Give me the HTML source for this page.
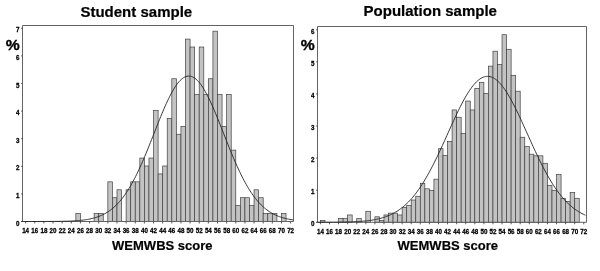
<!DOCTYPE html>
<html><head><meta charset="utf-8"><title>WEMWBS score distributions</title>
<style>
html,body{margin:0;padding:0;background:#fff;}
body{width:600px;height:271px;overflow:hidden;}
svg{display:block;font-family:"Liberation Sans",sans-serif;font-weight:bold;fill:#000;}
.tk{font-size:7.8px;stroke:#000;stroke-width:0.3px;}
.ti{font-size:15px;stroke:#000;stroke-width:0.2px;}
.xl{font-size:13px;stroke:#000;stroke-width:0.2px;}
.pc{font-size:15.4px;stroke:#000;stroke-width:0.35px;}
</style></head><body>
<svg width="600" height="271" viewBox="0 0 600 271">
<rect width="600" height="271" fill="#fff"/>
<rect x="75.86" y="213.57" width="4.57" height="7.93" fill="#c3c3c3" stroke="#404040" stroke-width="0.7"/>
<rect x="94.13" y="213.57" width="4.57" height="7.93" fill="#c3c3c3" stroke="#404040" stroke-width="0.7"/>
<rect x="98.70" y="213.57" width="4.57" height="7.93" fill="#c3c3c3" stroke="#404040" stroke-width="0.7"/>
<rect x="107.84" y="181.84" width="4.57" height="39.66" fill="#c3c3c3" stroke="#404040" stroke-width="0.7"/>
<rect x="112.41" y="197.71" width="4.57" height="23.79" fill="#c3c3c3" stroke="#404040" stroke-width="0.7"/>
<rect x="116.98" y="189.78" width="4.57" height="31.72" fill="#c3c3c3" stroke="#404040" stroke-width="0.7"/>
<rect x="126.12" y="189.78" width="4.57" height="31.72" fill="#c3c3c3" stroke="#404040" stroke-width="0.7"/>
<rect x="130.69" y="181.84" width="4.57" height="39.66" fill="#c3c3c3" stroke="#404040" stroke-width="0.7"/>
<rect x="135.26" y="181.84" width="4.57" height="39.66" fill="#c3c3c3" stroke="#404040" stroke-width="0.7"/>
<rect x="139.82" y="158.05" width="4.57" height="63.45" fill="#c3c3c3" stroke="#404040" stroke-width="0.7"/>
<rect x="144.39" y="165.98" width="4.57" height="55.52" fill="#c3c3c3" stroke="#404040" stroke-width="0.7"/>
<rect x="148.96" y="158.05" width="4.57" height="63.45" fill="#c3c3c3" stroke="#404040" stroke-width="0.7"/>
<rect x="153.53" y="110.47" width="4.57" height="111.03" fill="#c3c3c3" stroke="#404040" stroke-width="0.7"/>
<rect x="158.10" y="173.91" width="4.57" height="47.59" fill="#c3c3c3" stroke="#404040" stroke-width="0.7"/>
<rect x="162.67" y="165.98" width="4.57" height="55.52" fill="#c3c3c3" stroke="#404040" stroke-width="0.7"/>
<rect x="167.24" y="118.40" width="4.57" height="103.10" fill="#c3c3c3" stroke="#404040" stroke-width="0.7"/>
<rect x="171.81" y="78.74" width="4.57" height="142.76" fill="#c3c3c3" stroke="#404040" stroke-width="0.7"/>
<rect x="176.38" y="134.26" width="4.57" height="87.24" fill="#c3c3c3" stroke="#404040" stroke-width="0.7"/>
<rect x="180.95" y="126.33" width="4.57" height="95.17" fill="#c3c3c3" stroke="#404040" stroke-width="0.7"/>
<rect x="185.51" y="39.09" width="4.57" height="182.41" fill="#c3c3c3" stroke="#404040" stroke-width="0.7"/>
<rect x="190.08" y="47.02" width="4.57" height="174.48" fill="#c3c3c3" stroke="#404040" stroke-width="0.7"/>
<rect x="194.65" y="94.60" width="4.57" height="126.90" fill="#c3c3c3" stroke="#404040" stroke-width="0.7"/>
<rect x="199.22" y="47.02" width="4.57" height="174.48" fill="#c3c3c3" stroke="#404040" stroke-width="0.7"/>
<rect x="203.79" y="94.60" width="4.57" height="126.90" fill="#c3c3c3" stroke="#404040" stroke-width="0.7"/>
<rect x="208.36" y="78.74" width="4.57" height="142.76" fill="#c3c3c3" stroke="#404040" stroke-width="0.7"/>
<rect x="212.93" y="31.16" width="4.57" height="190.34" fill="#c3c3c3" stroke="#404040" stroke-width="0.7"/>
<rect x="217.50" y="94.60" width="4.57" height="126.90" fill="#c3c3c3" stroke="#404040" stroke-width="0.7"/>
<rect x="222.07" y="126.33" width="4.57" height="95.17" fill="#c3c3c3" stroke="#404040" stroke-width="0.7"/>
<rect x="226.64" y="94.60" width="4.57" height="126.90" fill="#c3c3c3" stroke="#404040" stroke-width="0.7"/>
<rect x="231.20" y="150.12" width="4.57" height="71.38" fill="#c3c3c3" stroke="#404040" stroke-width="0.7"/>
<rect x="235.77" y="205.64" width="4.57" height="15.86" fill="#c3c3c3" stroke="#404040" stroke-width="0.7"/>
<rect x="240.34" y="197.71" width="4.57" height="23.79" fill="#c3c3c3" stroke="#404040" stroke-width="0.7"/>
<rect x="244.91" y="197.71" width="4.57" height="23.79" fill="#c3c3c3" stroke="#404040" stroke-width="0.7"/>
<rect x="249.48" y="205.64" width="4.57" height="15.86" fill="#c3c3c3" stroke="#404040" stroke-width="0.7"/>
<rect x="254.05" y="189.78" width="4.57" height="31.72" fill="#c3c3c3" stroke="#404040" stroke-width="0.7"/>
<rect x="258.62" y="197.71" width="4.57" height="23.79" fill="#c3c3c3" stroke="#404040" stroke-width="0.7"/>
<rect x="263.19" y="213.57" width="4.57" height="7.93" fill="#c3c3c3" stroke="#404040" stroke-width="0.7"/>
<rect x="267.76" y="213.57" width="4.57" height="7.93" fill="#c3c3c3" stroke="#404040" stroke-width="0.7"/>
<rect x="272.33" y="213.57" width="4.57" height="7.93" fill="#c3c3c3" stroke="#404040" stroke-width="0.7"/>
<rect x="281.46" y="213.57" width="4.57" height="7.93" fill="#c3c3c3" stroke="#404040" stroke-width="0.7"/>
<path d="M22.5 221.5 V25.5 H293.5 V221.5" fill="none" stroke="#646464" stroke-width="1"/>
<path d="M21.3 221.5 H293.5" fill="none" stroke="#646464" stroke-width="1"/>
<path d="M25.60 221.5 v2" stroke="#333" stroke-width="0.8"/>
<text transform="translate(25.60 232.75) scale(0.8 1)" class="tk" text-anchor="middle">14</text>
<path d="M34.74 221.5 v2" stroke="#333" stroke-width="0.8"/>
<text transform="translate(34.74 232.75) scale(0.8 1)" class="tk" text-anchor="middle">16</text>
<path d="M43.88 221.5 v2" stroke="#333" stroke-width="0.8"/>
<text transform="translate(43.88 232.75) scale(0.8 1)" class="tk" text-anchor="middle">18</text>
<path d="M53.01 221.5 v2" stroke="#333" stroke-width="0.8"/>
<text transform="translate(53.01 232.75) scale(0.8 1)" class="tk" text-anchor="middle">20</text>
<path d="M62.15 221.5 v2" stroke="#333" stroke-width="0.8"/>
<text transform="translate(62.15 232.75) scale(0.8 1)" class="tk" text-anchor="middle">22</text>
<path d="M71.29 221.5 v2" stroke="#333" stroke-width="0.8"/>
<text transform="translate(71.29 232.75) scale(0.8 1)" class="tk" text-anchor="middle">24</text>
<path d="M80.43 221.5 v2" stroke="#333" stroke-width="0.8"/>
<text transform="translate(80.43 232.75) scale(0.8 1)" class="tk" text-anchor="middle">26</text>
<path d="M89.57 221.5 v2" stroke="#333" stroke-width="0.8"/>
<text transform="translate(89.57 232.75) scale(0.8 1)" class="tk" text-anchor="middle">28</text>
<path d="M98.70 221.5 v2" stroke="#333" stroke-width="0.8"/>
<text transform="translate(98.70 232.75) scale(0.8 1)" class="tk" text-anchor="middle">30</text>
<path d="M107.84 221.5 v2" stroke="#333" stroke-width="0.8"/>
<text transform="translate(107.84 232.75) scale(0.8 1)" class="tk" text-anchor="middle">32</text>
<path d="M116.98 221.5 v2" stroke="#333" stroke-width="0.8"/>
<text transform="translate(116.98 232.75) scale(0.8 1)" class="tk" text-anchor="middle">34</text>
<path d="M126.12 221.5 v2" stroke="#333" stroke-width="0.8"/>
<text transform="translate(126.12 232.75) scale(0.8 1)" class="tk" text-anchor="middle">36</text>
<path d="M135.26 221.5 v2" stroke="#333" stroke-width="0.8"/>
<text transform="translate(135.26 232.75) scale(0.8 1)" class="tk" text-anchor="middle">38</text>
<path d="M144.39 221.5 v2" stroke="#333" stroke-width="0.8"/>
<text transform="translate(144.39 232.75) scale(0.8 1)" class="tk" text-anchor="middle">40</text>
<path d="M153.53 221.5 v2" stroke="#333" stroke-width="0.8"/>
<text transform="translate(153.53 232.75) scale(0.8 1)" class="tk" text-anchor="middle">42</text>
<path d="M162.67 221.5 v2" stroke="#333" stroke-width="0.8"/>
<text transform="translate(162.67 232.75) scale(0.8 1)" class="tk" text-anchor="middle">44</text>
<path d="M171.81 221.5 v2" stroke="#333" stroke-width="0.8"/>
<text transform="translate(171.81 232.75) scale(0.8 1)" class="tk" text-anchor="middle">46</text>
<path d="M180.95 221.5 v2" stroke="#333" stroke-width="0.8"/>
<text transform="translate(180.95 232.75) scale(0.8 1)" class="tk" text-anchor="middle">48</text>
<path d="M190.08 221.5 v2" stroke="#333" stroke-width="0.8"/>
<text transform="translate(190.08 232.75) scale(0.8 1)" class="tk" text-anchor="middle">50</text>
<path d="M199.22 221.5 v2" stroke="#333" stroke-width="0.8"/>
<text transform="translate(199.22 232.75) scale(0.8 1)" class="tk" text-anchor="middle">52</text>
<path d="M208.36 221.5 v2" stroke="#333" stroke-width="0.8"/>
<text transform="translate(208.36 232.75) scale(0.8 1)" class="tk" text-anchor="middle">54</text>
<path d="M217.50 221.5 v2" stroke="#333" stroke-width="0.8"/>
<text transform="translate(217.50 232.75) scale(0.8 1)" class="tk" text-anchor="middle">56</text>
<path d="M226.64 221.5 v2" stroke="#333" stroke-width="0.8"/>
<text transform="translate(226.64 232.75) scale(0.8 1)" class="tk" text-anchor="middle">58</text>
<path d="M235.77 221.5 v2" stroke="#333" stroke-width="0.8"/>
<text transform="translate(235.77 232.75) scale(0.8 1)" class="tk" text-anchor="middle">60</text>
<path d="M244.91 221.5 v2" stroke="#333" stroke-width="0.8"/>
<text transform="translate(244.91 232.75) scale(0.8 1)" class="tk" text-anchor="middle">62</text>
<path d="M254.05 221.5 v2" stroke="#333" stroke-width="0.8"/>
<text transform="translate(254.05 232.75) scale(0.8 1)" class="tk" text-anchor="middle">64</text>
<path d="M263.19 221.5 v2" stroke="#333" stroke-width="0.8"/>
<text transform="translate(263.19 232.75) scale(0.8 1)" class="tk" text-anchor="middle">66</text>
<path d="M272.33 221.5 v2" stroke="#333" stroke-width="0.8"/>
<text transform="translate(272.33 232.75) scale(0.8 1)" class="tk" text-anchor="middle">68</text>
<path d="M281.46 221.5 v2" stroke="#333" stroke-width="0.8"/>
<text transform="translate(281.46 232.75) scale(0.8 1)" class="tk" text-anchor="middle">70</text>
<path d="M290.60 221.5 v2" stroke="#333" stroke-width="0.8"/>
<text transform="translate(290.60 232.75) scale(0.8 1)" class="tk" text-anchor="middle">72</text>
<path d="M22.5 221.50 h-1.4" stroke="#333" stroke-width="0.8"/>
<text transform="translate(19.50 225.65) scale(0.8 1)" class="tk" text-anchor="end">0</text>
<path d="M22.5 193.90 h-1.4" stroke="#333" stroke-width="0.8"/>
<text transform="translate(19.50 198.05) scale(0.8 1)" class="tk" text-anchor="end">1</text>
<path d="M22.5 166.30 h-1.4" stroke="#333" stroke-width="0.8"/>
<text transform="translate(19.50 170.45) scale(0.8 1)" class="tk" text-anchor="end">2</text>
<path d="M22.5 138.70 h-1.4" stroke="#333" stroke-width="0.8"/>
<text transform="translate(19.50 142.85) scale(0.8 1)" class="tk" text-anchor="end">3</text>
<path d="M22.5 111.10 h-1.4" stroke="#333" stroke-width="0.8"/>
<text transform="translate(19.50 115.25) scale(0.8 1)" class="tk" text-anchor="end">4</text>
<path d="M22.5 83.50 h-1.4" stroke="#333" stroke-width="0.8"/>
<text transform="translate(19.50 87.65) scale(0.8 1)" class="tk" text-anchor="end">5</text>
<path d="M22.5 55.90 h-1.4" stroke="#333" stroke-width="0.8"/>
<text transform="translate(19.50 60.05) scale(0.8 1)" class="tk" text-anchor="end">6</text>
<path d="M22.5 28.30 h-1.4" stroke="#333" stroke-width="0.8"/>
<text transform="translate(19.50 32.45) scale(0.8 1)" class="tk" text-anchor="end">7</text>
<polyline points="22.50,221.50 23.64,221.50 24.78,221.50 25.93,221.50 27.07,221.50 28.21,221.50 29.35,221.50 30.50,221.50 31.64,221.49 32.78,221.49 33.92,221.49 35.06,221.49 36.21,221.49 37.35,221.49 38.49,221.49 39.63,221.49 40.78,221.48 41.92,221.48 43.06,221.48 44.20,221.48 45.34,221.47 46.49,221.47 47.63,221.46 48.77,221.46 49.91,221.45 51.06,221.44 52.20,221.44 53.34,221.43 54.48,221.42 55.63,221.41 56.77,221.39 57.91,221.38 59.05,221.36 60.19,221.35 61.34,221.33 62.48,221.31 63.62,221.28 64.76,221.25 65.91,221.22 67.05,221.19 68.19,221.15 69.33,221.11 70.47,221.06 71.62,221.01 72.76,220.95 73.90,220.89 75.04,220.82 76.19,220.74 77.33,220.66 78.47,220.57 79.61,220.46 80.75,220.35 81.90,220.23 83.04,220.09 84.18,219.95 85.32,219.78 86.47,219.61 87.61,219.42 88.75,219.21 89.89,218.98 91.03,218.74 92.18,218.47 93.32,218.18 94.46,217.87 95.60,217.53 96.75,217.17 97.89,216.78 99.03,216.36 100.17,215.90 101.32,215.42 102.46,214.89 103.60,214.33 104.74,213.74 105.88,213.10 107.03,212.41 108.17,211.69 109.31,210.91 110.45,210.09 111.60,209.22 112.74,208.30 113.88,207.32 115.02,206.28 116.16,205.19 117.31,204.04 118.45,202.82 119.59,201.55 120.73,200.21 121.88,198.80 123.02,197.33 124.16,195.79 125.30,194.18 126.44,192.50 127.59,190.75 128.73,188.93 129.87,187.04 131.01,185.09 132.16,183.06 133.30,180.96 134.44,178.80 135.58,176.56 136.72,174.26 137.87,171.90 139.01,169.48 140.15,167.00 141.29,164.46 142.44,161.86 143.58,159.22 144.72,156.53 145.86,153.79 147.01,151.02 148.15,148.21 149.29,145.38 150.43,142.51 151.57,139.63 152.72,136.74 153.86,133.84 155.00,130.94 156.14,128.04 157.29,125.16 158.43,122.29 159.57,119.45 160.71,116.64 161.85,113.87 163.00,111.15 164.14,108.48 165.28,105.87 166.42,103.33 167.57,100.86 168.71,98.48 169.85,96.18 170.99,93.98 172.13,91.88 173.28,89.89 174.42,88.01 175.56,86.25 176.70,84.62 177.85,83.11 178.99,81.75 180.13,80.52 181.27,79.43 182.41,78.49 183.56,77.70 184.70,77.06 185.84,76.58 186.98,76.25 188.13,76.08 189.27,76.06 190.41,76.20 191.55,76.50 192.70,76.96 193.84,77.57 194.98,78.33 196.12,79.24 197.26,80.30 198.41,81.50 199.55,82.85 200.69,84.32 201.83,85.93 202.98,87.67 204.12,89.53 205.26,91.50 206.40,93.58 207.54,95.76 208.69,98.04 209.83,100.41 210.97,102.86 212.11,105.39 213.26,107.99 214.40,110.64 215.54,113.36 216.68,116.12 217.82,118.92 218.97,121.76 220.11,124.62 221.25,127.50 222.39,130.40 223.54,133.30 224.68,136.20 225.82,139.09 226.96,141.97 228.10,144.84 229.25,147.68 230.39,150.49 231.53,153.27 232.67,156.02 233.82,158.72 234.96,161.37 236.10,163.97 237.24,166.52 238.39,169.02 239.53,171.45 240.67,173.83 241.81,176.14 242.95,178.38 244.10,180.56 245.24,182.67 246.38,184.71 247.52,186.68 248.67,188.58 249.81,190.42 250.95,192.18 252.09,193.87 253.23,195.49 254.38,197.04 255.52,198.53 256.66,199.95 257.80,201.30 258.95,202.59 260.09,203.81 261.23,204.98 262.37,206.08 263.51,207.13 264.66,208.12 265.80,209.05 266.94,209.93 268.08,210.76 269.23,211.55 270.37,212.28 271.51,212.97 272.65,213.62 273.80,214.22 274.94,214.79 276.08,215.32 277.22,215.81 278.36,216.27 279.51,216.70 280.65,217.10 281.79,217.47 282.93,217.81 284.08,218.13 285.22,218.42 286.36,218.69 287.50,218.94 288.64,219.17 289.79,219.38 290.93,219.57 292.07,219.75 293.21,219.92" fill="none" stroke="#222" stroke-width="0.9"/>
<rect x="320.40" y="220.47" width="4.54" height="1.83" fill="#c3c3c3" stroke="#404040" stroke-width="0.7"/>
<rect x="338.56" y="218.63" width="4.54" height="3.67" fill="#c3c3c3" stroke="#404040" stroke-width="0.7"/>
<rect x="343.10" y="218.63" width="4.54" height="3.67" fill="#c3c3c3" stroke="#404040" stroke-width="0.7"/>
<rect x="347.65" y="214.96" width="4.54" height="7.34" fill="#c3c3c3" stroke="#404040" stroke-width="0.7"/>
<rect x="356.73" y="218.63" width="4.54" height="3.67" fill="#c3c3c3" stroke="#404040" stroke-width="0.7"/>
<rect x="365.81" y="211.29" width="4.54" height="11.01" fill="#c3c3c3" stroke="#404040" stroke-width="0.7"/>
<rect x="374.89" y="216.80" width="4.54" height="5.50" fill="#c3c3c3" stroke="#404040" stroke-width="0.7"/>
<rect x="379.43" y="220.47" width="4.54" height="1.83" fill="#c3c3c3" stroke="#404040" stroke-width="0.7"/>
<rect x="383.97" y="214.96" width="4.54" height="7.34" fill="#c3c3c3" stroke="#404040" stroke-width="0.7"/>
<rect x="388.51" y="213.13" width="4.54" height="9.17" fill="#c3c3c3" stroke="#404040" stroke-width="0.7"/>
<rect x="393.06" y="213.13" width="4.54" height="9.17" fill="#c3c3c3" stroke="#404040" stroke-width="0.7"/>
<rect x="397.60" y="214.96" width="4.54" height="7.34" fill="#c3c3c3" stroke="#404040" stroke-width="0.7"/>
<rect x="402.14" y="207.51" width="4.54" height="14.79" fill="#c3c3c3" stroke="#404040" stroke-width="0.7"/>
<rect x="406.68" y="205.32" width="4.54" height="16.98" fill="#c3c3c3" stroke="#404040" stroke-width="0.7"/>
<rect x="411.22" y="200.01" width="4.54" height="22.29" fill="#c3c3c3" stroke="#404040" stroke-width="0.7"/>
<rect x="415.76" y="196.30" width="4.54" height="26.00" fill="#c3c3c3" stroke="#404040" stroke-width="0.7"/>
<rect x="420.30" y="183.28" width="4.54" height="39.02" fill="#c3c3c3" stroke="#404040" stroke-width="0.7"/>
<rect x="424.84" y="188.81" width="4.54" height="33.49" fill="#c3c3c3" stroke="#404040" stroke-width="0.7"/>
<rect x="429.38" y="190.30" width="4.54" height="32.00" fill="#c3c3c3" stroke="#404040" stroke-width="0.7"/>
<rect x="433.92" y="179.19" width="4.54" height="43.11" fill="#c3c3c3" stroke="#404040" stroke-width="0.7"/>
<rect x="438.47" y="148.68" width="4.54" height="73.62" fill="#c3c3c3" stroke="#404040" stroke-width="0.7"/>
<rect x="443.01" y="155.50" width="4.54" height="66.80" fill="#c3c3c3" stroke="#404040" stroke-width="0.7"/>
<rect x="447.55" y="141.50" width="4.54" height="80.80" fill="#c3c3c3" stroke="#404040" stroke-width="0.7"/>
<rect x="452.09" y="109.94" width="4.54" height="112.36" fill="#c3c3c3" stroke="#404040" stroke-width="0.7"/>
<rect x="456.63" y="117.24" width="4.54" height="105.06" fill="#c3c3c3" stroke="#404040" stroke-width="0.7"/>
<rect x="461.17" y="133.31" width="4.54" height="88.99" fill="#c3c3c3" stroke="#404040" stroke-width="0.7"/>
<rect x="465.71" y="101.05" width="4.54" height="121.25" fill="#c3c3c3" stroke="#404040" stroke-width="0.7"/>
<rect x="470.25" y="109.94" width="4.54" height="112.36" fill="#c3c3c3" stroke="#404040" stroke-width="0.7"/>
<rect x="474.79" y="88.35" width="4.54" height="133.95" fill="#c3c3c3" stroke="#404040" stroke-width="0.7"/>
<rect x="479.33" y="82.32" width="4.54" height="139.98" fill="#c3c3c3" stroke="#404040" stroke-width="0.7"/>
<rect x="483.88" y="93.43" width="4.54" height="128.87" fill="#c3c3c3" stroke="#404040" stroke-width="0.7"/>
<rect x="488.42" y="66.12" width="4.54" height="156.18" fill="#c3c3c3" stroke="#404040" stroke-width="0.7"/>
<rect x="492.96" y="51.20" width="4.54" height="171.10" fill="#c3c3c3" stroke="#404040" stroke-width="0.7"/>
<rect x="497.50" y="64.54" width="4.54" height="157.76" fill="#c3c3c3" stroke="#404040" stroke-width="0.7"/>
<rect x="502.04" y="34.69" width="4.54" height="187.61" fill="#c3c3c3" stroke="#404040" stroke-width="0.7"/>
<rect x="506.58" y="49.30" width="4.54" height="173.00" fill="#c3c3c3" stroke="#404040" stroke-width="0.7"/>
<rect x="511.12" y="75.33" width="4.54" height="146.97" fill="#c3c3c3" stroke="#404040" stroke-width="0.7"/>
<rect x="515.66" y="91.21" width="4.54" height="131.09" fill="#c3c3c3" stroke="#404040" stroke-width="0.7"/>
<rect x="520.20" y="137.25" width="4.54" height="85.06" fill="#c3c3c3" stroke="#404040" stroke-width="0.7"/>
<rect x="524.75" y="146.45" width="4.54" height="75.85" fill="#c3c3c3" stroke="#404040" stroke-width="0.7"/>
<rect x="529.29" y="154.20" width="4.54" height="68.10" fill="#c3c3c3" stroke="#404040" stroke-width="0.7"/>
<rect x="533.83" y="155.82" width="4.54" height="66.48" fill="#c3c3c3" stroke="#404040" stroke-width="0.7"/>
<rect x="538.37" y="155.82" width="4.54" height="66.48" fill="#c3c3c3" stroke="#404040" stroke-width="0.7"/>
<rect x="542.91" y="163.28" width="4.54" height="59.02" fill="#c3c3c3" stroke="#404040" stroke-width="0.7"/>
<rect x="547.45" y="185.31" width="4.54" height="36.99" fill="#c3c3c3" stroke="#404040" stroke-width="0.7"/>
<rect x="551.99" y="190.30" width="4.54" height="32.00" fill="#c3c3c3" stroke="#404040" stroke-width="0.7"/>
<rect x="556.53" y="174.49" width="4.54" height="47.81" fill="#c3c3c3" stroke="#404040" stroke-width="0.7"/>
<rect x="561.07" y="198.30" width="4.54" height="24.00" fill="#c3c3c3" stroke="#404040" stroke-width="0.7"/>
<rect x="565.61" y="201.38" width="4.54" height="20.92" fill="#c3c3c3" stroke="#404040" stroke-width="0.7"/>
<rect x="570.15" y="192.49" width="4.54" height="29.81" fill="#c3c3c3" stroke="#404040" stroke-width="0.7"/>
<rect x="574.70" y="198.30" width="4.54" height="24.00" fill="#c3c3c3" stroke="#404040" stroke-width="0.7"/>
<path d="M317.5 222.3 V26.5 H586.5 V222.3" fill="none" stroke="#646464" stroke-width="1"/>
<path d="M316.3 222.3 H586.5" fill="none" stroke="#646464" stroke-width="1"/>
<path d="M320.40 222.3 v2" stroke="#333" stroke-width="0.8"/>
<text transform="translate(320.40 233.55) scale(0.8 1)" class="tk" text-anchor="middle">14</text>
<path d="M329.48 222.3 v2" stroke="#333" stroke-width="0.8"/>
<text transform="translate(329.48 233.55) scale(0.8 1)" class="tk" text-anchor="middle">16</text>
<path d="M338.56 222.3 v2" stroke="#333" stroke-width="0.8"/>
<text transform="translate(338.56 233.55) scale(0.8 1)" class="tk" text-anchor="middle">18</text>
<path d="M347.65 222.3 v2" stroke="#333" stroke-width="0.8"/>
<text transform="translate(347.65 233.55) scale(0.8 1)" class="tk" text-anchor="middle">20</text>
<path d="M356.73 222.3 v2" stroke="#333" stroke-width="0.8"/>
<text transform="translate(356.73 233.55) scale(0.8 1)" class="tk" text-anchor="middle">22</text>
<path d="M365.81 222.3 v2" stroke="#333" stroke-width="0.8"/>
<text transform="translate(365.81 233.55) scale(0.8 1)" class="tk" text-anchor="middle">24</text>
<path d="M374.89 222.3 v2" stroke="#333" stroke-width="0.8"/>
<text transform="translate(374.89 233.55) scale(0.8 1)" class="tk" text-anchor="middle">26</text>
<path d="M383.97 222.3 v2" stroke="#333" stroke-width="0.8"/>
<text transform="translate(383.97 233.55) scale(0.8 1)" class="tk" text-anchor="middle">28</text>
<path d="M393.06 222.3 v2" stroke="#333" stroke-width="0.8"/>
<text transform="translate(393.06 233.55) scale(0.8 1)" class="tk" text-anchor="middle">30</text>
<path d="M402.14 222.3 v2" stroke="#333" stroke-width="0.8"/>
<text transform="translate(402.14 233.55) scale(0.8 1)" class="tk" text-anchor="middle">32</text>
<path d="M411.22 222.3 v2" stroke="#333" stroke-width="0.8"/>
<text transform="translate(411.22 233.55) scale(0.8 1)" class="tk" text-anchor="middle">34</text>
<path d="M420.30 222.3 v2" stroke="#333" stroke-width="0.8"/>
<text transform="translate(420.30 233.55) scale(0.8 1)" class="tk" text-anchor="middle">36</text>
<path d="M429.38 222.3 v2" stroke="#333" stroke-width="0.8"/>
<text transform="translate(429.38 233.55) scale(0.8 1)" class="tk" text-anchor="middle">38</text>
<path d="M438.47 222.3 v2" stroke="#333" stroke-width="0.8"/>
<text transform="translate(438.47 233.55) scale(0.8 1)" class="tk" text-anchor="middle">40</text>
<path d="M447.55 222.3 v2" stroke="#333" stroke-width="0.8"/>
<text transform="translate(447.55 233.55) scale(0.8 1)" class="tk" text-anchor="middle">42</text>
<path d="M456.63 222.3 v2" stroke="#333" stroke-width="0.8"/>
<text transform="translate(456.63 233.55) scale(0.8 1)" class="tk" text-anchor="middle">44</text>
<path d="M465.71 222.3 v2" stroke="#333" stroke-width="0.8"/>
<text transform="translate(465.71 233.55) scale(0.8 1)" class="tk" text-anchor="middle">46</text>
<path d="M474.79 222.3 v2" stroke="#333" stroke-width="0.8"/>
<text transform="translate(474.79 233.55) scale(0.8 1)" class="tk" text-anchor="middle">48</text>
<path d="M483.88 222.3 v2" stroke="#333" stroke-width="0.8"/>
<text transform="translate(483.88 233.55) scale(0.8 1)" class="tk" text-anchor="middle">50</text>
<path d="M492.96 222.3 v2" stroke="#333" stroke-width="0.8"/>
<text transform="translate(492.96 233.55) scale(0.8 1)" class="tk" text-anchor="middle">52</text>
<path d="M502.04 222.3 v2" stroke="#333" stroke-width="0.8"/>
<text transform="translate(502.04 233.55) scale(0.8 1)" class="tk" text-anchor="middle">54</text>
<path d="M511.12 222.3 v2" stroke="#333" stroke-width="0.8"/>
<text transform="translate(511.12 233.55) scale(0.8 1)" class="tk" text-anchor="middle">56</text>
<path d="M520.20 222.3 v2" stroke="#333" stroke-width="0.8"/>
<text transform="translate(520.20 233.55) scale(0.8 1)" class="tk" text-anchor="middle">58</text>
<path d="M529.29 222.3 v2" stroke="#333" stroke-width="0.8"/>
<text transform="translate(529.29 233.55) scale(0.8 1)" class="tk" text-anchor="middle">60</text>
<path d="M538.37 222.3 v2" stroke="#333" stroke-width="0.8"/>
<text transform="translate(538.37 233.55) scale(0.8 1)" class="tk" text-anchor="middle">62</text>
<path d="M547.45 222.3 v2" stroke="#333" stroke-width="0.8"/>
<text transform="translate(547.45 233.55) scale(0.8 1)" class="tk" text-anchor="middle">64</text>
<path d="M556.53 222.3 v2" stroke="#333" stroke-width="0.8"/>
<text transform="translate(556.53 233.55) scale(0.8 1)" class="tk" text-anchor="middle">66</text>
<path d="M565.61 222.3 v2" stroke="#333" stroke-width="0.8"/>
<text transform="translate(565.61 233.55) scale(0.8 1)" class="tk" text-anchor="middle">68</text>
<path d="M574.70 222.3 v2" stroke="#333" stroke-width="0.8"/>
<text transform="translate(574.70 233.55) scale(0.8 1)" class="tk" text-anchor="middle">70</text>
<path d="M583.78 222.3 v2" stroke="#333" stroke-width="0.8"/>
<text transform="translate(583.78 233.55) scale(0.8 1)" class="tk" text-anchor="middle">72</text>
<path d="M317.5 222.30 h-1.4" stroke="#333" stroke-width="0.8"/>
<text transform="translate(314.50 226.45) scale(0.8 1)" class="tk" text-anchor="end">0</text>
<path d="M317.5 190.22 h-1.4" stroke="#333" stroke-width="0.8"/>
<text transform="translate(314.50 194.37) scale(0.8 1)" class="tk" text-anchor="end">1</text>
<path d="M317.5 158.14 h-1.4" stroke="#333" stroke-width="0.8"/>
<text transform="translate(314.50 162.29) scale(0.8 1)" class="tk" text-anchor="end">2</text>
<path d="M317.5 126.06 h-1.4" stroke="#333" stroke-width="0.8"/>
<text transform="translate(314.50 130.21) scale(0.8 1)" class="tk" text-anchor="end">3</text>
<path d="M317.5 93.98 h-1.4" stroke="#333" stroke-width="0.8"/>
<text transform="translate(314.50 98.13) scale(0.8 1)" class="tk" text-anchor="end">4</text>
<path d="M317.5 61.90 h-1.4" stroke="#333" stroke-width="0.8"/>
<text transform="translate(314.50 66.05) scale(0.8 1)" class="tk" text-anchor="end">5</text>
<path d="M317.5 29.82 h-1.4" stroke="#333" stroke-width="0.8"/>
<text transform="translate(314.50 33.97) scale(0.8 1)" class="tk" text-anchor="end">6</text>
<polyline points="317.50,222.28 318.64,222.28 319.77,222.28 320.91,222.28 322.04,222.27 323.18,222.27 324.31,222.27 325.45,222.26 326.58,222.26 327.72,222.25 328.85,222.25 329.99,222.24 331.12,222.23 332.26,222.23 333.39,222.22 334.53,222.21 335.66,222.20 336.80,222.19 337.93,222.17 339.07,222.16 340.20,222.14 341.34,222.13 342.48,222.11 343.61,222.09 344.75,222.06 345.88,222.04 347.02,222.01 348.15,221.98 349.29,221.95 350.42,221.91 351.56,221.87 352.69,221.83 353.83,221.78 354.96,221.73 356.10,221.67 357.23,221.61 358.37,221.54 359.50,221.47 360.64,221.39 361.77,221.30 362.91,221.21 364.05,221.11 365.18,221.00 366.32,220.88 367.45,220.75 368.59,220.61 369.72,220.46 370.86,220.30 371.99,220.13 373.13,219.94 374.26,219.74 375.40,219.52 376.53,219.29 377.67,219.05 378.80,218.78 379.94,218.50 381.07,218.20 382.21,217.87 383.34,217.53 384.48,217.16 385.62,216.77 386.75,216.35 387.89,215.91 389.02,215.44 390.16,214.94 391.29,214.42 392.43,213.86 393.56,213.27 394.70,212.64 395.83,211.98 396.97,211.29 398.10,210.56 399.24,209.78 400.37,208.97 401.51,208.12 402.64,207.23 403.78,206.29 404.91,205.31 406.05,204.28 407.18,203.21 408.32,202.09 409.46,200.92 410.59,199.70 411.73,198.43 412.86,197.11 414.00,195.73 415.13,194.31 416.27,192.83 417.40,191.30 418.54,189.72 419.67,188.09 420.81,186.40 421.94,184.66 423.08,182.87 424.21,181.02 425.35,179.13 426.48,177.18 427.62,175.18 428.75,173.14 429.89,171.05 431.02,168.91 432.16,166.73 433.30,164.51 434.43,162.25 435.57,159.95 436.70,157.61 437.84,155.25 438.97,152.85 440.11,150.42 441.24,147.97 442.38,145.50 443.51,143.01 444.65,140.51 445.78,137.99 446.92,135.47 448.05,132.95 449.19,130.42 450.32,127.91 451.46,125.40 452.59,122.91 453.73,120.44 454.87,117.98 456.00,115.56 457.14,113.17 458.27,110.82 459.41,108.51 460.54,106.24 461.68,104.03 462.81,101.87 463.95,99.77 465.08,97.74 466.22,95.77 467.35,93.88 468.49,92.07 469.62,90.34 470.76,88.69 471.89,87.14 473.03,85.67 474.16,84.30 475.30,83.04 476.44,81.87 477.57,80.81 478.71,79.86 479.84,79.02 480.98,78.29 482.11,77.67 483.25,77.17 484.38,76.79 485.52,76.52 486.65,76.37 487.79,76.34 488.92,76.43 490.06,76.63 491.19,76.96 492.33,77.40 493.46,77.96 494.60,78.63 495.73,79.42 496.87,80.31 498.00,81.32 499.14,82.43 500.28,83.65 501.41,84.96 502.55,86.38 503.68,87.89 504.82,89.49 505.95,91.18 507.09,92.95 508.22,94.80 509.36,96.73 510.49,98.73 511.63,100.79 512.76,102.92 513.90,105.11 515.03,107.35 516.17,109.64 517.30,111.97 518.44,114.34 519.57,116.75 520.71,119.18 521.85,121.65 522.98,124.13 524.12,126.63 525.25,129.14 526.39,131.66 527.52,134.19 528.66,136.71 529.79,139.23 530.93,141.74 532.06,144.23 533.20,146.71 534.33,149.18 535.47,151.61 536.60,154.03 537.74,156.41 538.87,158.76 540.01,161.08 541.14,163.37 542.28,165.61 543.41,167.81 544.55,169.97 545.69,172.08 546.82,174.15 547.96,176.17 549.09,178.14 550.23,180.06 551.36,181.93 552.50,183.75 553.63,185.52 554.77,187.23 555.90,188.90 557.04,190.50 558.17,192.06 559.31,193.56 560.44,195.01 561.58,196.41 562.71,197.76 563.85,199.06 564.98,200.30 566.12,201.50 567.25,202.64 568.39,203.74 569.53,204.79 570.66,205.80 571.80,206.76 572.93,207.67 574.07,208.55 575.20,209.38 576.34,210.17 577.47,210.92 578.61,211.63 579.74,212.31 580.88,212.95 582.01,213.56 583.15,214.14 584.28,214.68 585.42,215.19" fill="none" stroke="#222" stroke-width="0.9"/>
<text x="136.3" y="16.8" class="ti" text-anchor="middle">Student sample</text>
<text x="430.3" y="16.0" class="ti" text-anchor="middle">Population sample</text>
<text x="162.3" y="250.2" class="xl" text-anchor="middle">WEMWBS score</text>
<text x="447.8" y="249.8" class="xl" text-anchor="middle">WEMWBS score</text>
<text transform="translate(12.7 50.0) scale(1.02 0.93)" class="pc" text-anchor="middle">%</text>
<text transform="translate(307.7 50.0) scale(1.02 0.93)" class="pc" text-anchor="middle">%</text>
</svg>
</body></html>
